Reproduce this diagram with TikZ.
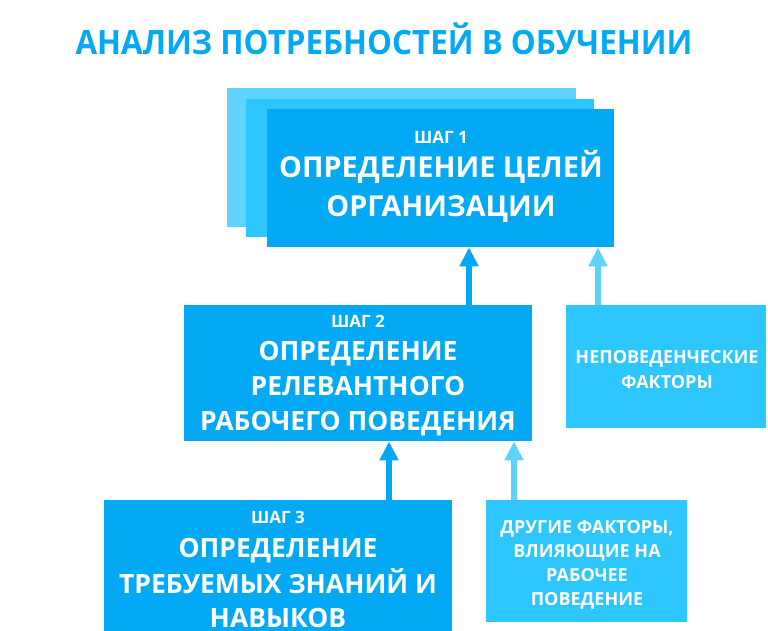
\documentclass[tikz,border=0pt]{standalone}
\usepackage{fontspec}
\setmainfont{Open Sans}
\newfontfamily\titlefont[FakeStretch=0.936]{Open Sans}
\usetikzlibrary{arrows.meta}
\definecolor{cfront}{RGB}{3,169,244}
\definecolor{cmid}{RGB}{46,198,255}
\definecolor{cback}{RGB}{96,212,255}
\definecolor{carrowl}{RGB}{94,210,255}
\tikzset{
  boxshape/.style={rectangle,inner sep=0pt,anchor=north west,draw=none},
  lbl/.style={inner sep=0pt,anchor=base,text=white,font=\bfseries\fontsize{26.5}{30}\selectfont},
  biglbl/.style={inner sep=0pt,anchor=base,text=white,font=\bfseries\fontsize{28.8}{32}\selectfont},
  steplbl/.style={inner sep=0pt,anchor=base,text=white,font=\bfseries\fontsize{17}{20}\selectfont},
  smalllbl/.style={inner sep=0pt,anchor=base,text=white,font=\bfseries\fontsize{18}{20}\selectfont},
  upar/.style={line width=6pt,-{Triangle[width=18pt,length=19pt]},shorten >=0pt},
}
\begin{document}
\begin{tikzpicture}[x=1pt,y=-1pt]
\useasboundingbox[fill=white] (0,0) rectangle (768,630);
% title
\node[inner sep=0pt,anchor=base,text=cfront,font=\titlefont\bfseries\fontsize{33.5}{36}\selectfont] (title) at (384,54) {АНАЛИЗ ПОТРЕБНОСТЕЙ В ОБУЧЕНИИ};
% step 1 stack
\node[boxshape,fill=cback,minimum width=349pt,minimum height=139pt] (s1c) at (227,88) {};
\node[boxshape,fill=cmid,minimum width=348pt,minimum height=138pt] (s1b) at (246,99) {};
\node[boxshape,fill=cfront,minimum width=347pt,minimum height=138pt] (s1) at (267,109) {};
\node[steplbl] (s1t0) at (441,143) {ШАГ 1};
\node[biglbl] (s1t1) at (441,177) {ОПРЕДЕЛЕНИЕ ЦЕЛЕЙ};
\node[biglbl] (s1t2) at (441,216) {ОРГАНИЗАЦИИ};
% step 2
\node[boxshape,fill=cfront,minimum width=348pt,minimum height=136pt] (s2) at (184,305) {};
\node[steplbl] (s2t0) at (358,327) {ШАГ 2};
\node[lbl] (s2t1) at (358,360) {ОПРЕДЕЛЕНИЕ};
\node[lbl] (s2t2) at (358,395) {РЕЛЕВАНТНОГО};
\node[lbl] (s2t3) at (358,430) {РАБОЧЕГО ПОВЕДЕНИЯ};
% non-behavioural
\node[boxshape,fill=cmid,minimum width=200pt,minimum height=123pt] (nb) at (566,305) {};
\node[smalllbl] (nbt1) at (667,363) {НЕПОВЕДЕНЧЕСКИЕ};
\node[smalllbl] (nbt2) at (667,388) {ФАКТОРЫ};
% step 3
\node[boxshape,fill=cfront,minimum width=348pt,minimum height=140pt] (s3) at (104,500) {};
\node[steplbl] (s3t0) at (278,523) {ШАГ 3};
\node[lbl] (s3t1) at (278,557) {ОПРЕДЕЛЕНИЕ};
\node[lbl] (s3t2) at (278,593) {ТРЕБУЕМЫХ ЗНАНИЙ И};
\node[lbl] (s3t3) at (278,627) {НАВЫКОВ};
% other factors
\node[boxshape,fill=cmid,minimum width=201pt,minimum height=122pt] (of) at (486,500) {};
\node[smalllbl] (oft1) at (587,533) {ДРУГИЕ ФАКТОРЫ,};
\node[smalllbl] (oft2) at (587,557) {ВЛИЯЮЩИЕ НА};
\node[smalllbl] (oft3) at (587,581) {РАБОЧЕЕ};
\node[smalllbl] (oft4) at (587,605) {ПОВЕДЕНИЕ};
% arrows
\draw[upar,draw=cfront,fill=cfront] (s2.north -| 469,0) -- (s1.south -| 469,0);
\draw[upar,draw=carrowl,fill=carrowl] (nb.north -| 598,0) -- (s1.south -| 598,0);
\draw[upar,draw=cfront,fill=cfront] (s3.north -| 389,0) -- (s2.south -| 389,0);
\draw[upar,draw=carrowl,fill=carrowl] (of.north -| 514,0) -- (s2.south -| 514,0);
\end{tikzpicture}
\end{document}
